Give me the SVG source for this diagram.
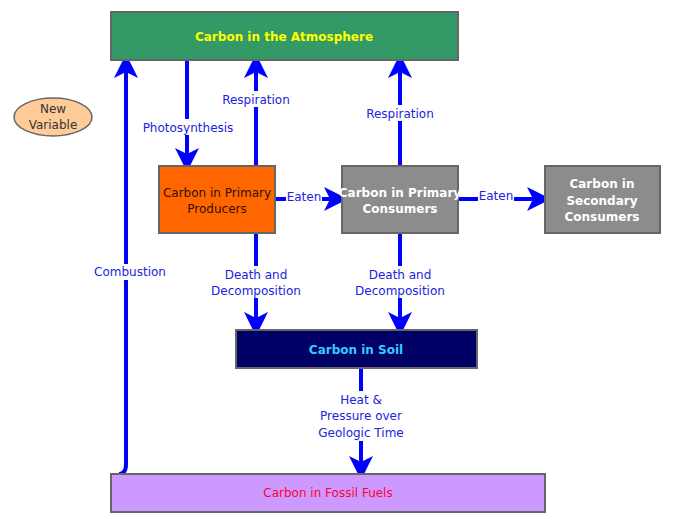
<svg xmlns="http://www.w3.org/2000/svg" width="674" height="524" viewBox="0 0 674 524">
<style>
text{font-family:"DejaVu Sans","Liberation Sans",sans-serif;font-size:12px;text-anchor:middle}
.box{stroke:#666;stroke-width:2}
.lbl{fill:#2222dd}
.c{fill:none;stroke:#0000ff;stroke-width:4}
.bg{fill:#fff}
</style>
<defs>
<marker id="a" markerWidth="6" markerHeight="6" refX="3" refY="3" orient="auto" markerUnits="strokeWidth"><path d="M0,0 L6,3 L0,6 L1.5,3 z" fill="#0000ff"/></marker>
</defs>
<rect width="674" height="524" fill="#fff"/>
<g id="connectors">
<path class="c" d="M187,60 V160" marker-end="url(#a)"/>
<path class="c" d="M256,166 V66" marker-end="url(#a)"/>
<path class="c" d="M400,166 V66" marker-end="url(#a)"/>
<path class="c" d="M275,199 H336" marker-end="url(#a)"/>
<path class="c" d="M458,199 H539" marker-end="url(#a)"/>
<path class="c" d="M256,233 V324" marker-end="url(#a)"/>
<path class="c" d="M400,233 V324" marker-end="url(#a)"/>
<path class="c" d="M361,368 V468" marker-end="url(#a)"/>
<path class="c" d="M119,474 Q126,474 126,464 V66" marker-end="url(#a)"/>
<rect class="bg" x="139" y="119" width="98" height="16"/>
<text class="lbl" x="188" y="132">Photosynthesis</text>
<rect class="bg" x="218" y="91" width="74" height="16"/>
<text class="lbl" x="256" y="104">Respiration</text>
<rect class="bg" x="362" y="105" width="76" height="16"/>
<text class="lbl" x="400" y="118">Respiration</text>
<rect class="bg" x="286" y="190" width="36" height="14"/>
<text class="lbl" x="304" y="201">Eaten</text>
<rect class="bg" x="478" y="189" width="36" height="14"/>
<text class="lbl" x="496" y="200">Eaten</text>
<rect class="bg" x="210" y="266" width="92" height="32"/>
<text class="lbl" x="256" y="279">Death and</text>
<text class="lbl" x="256" y="295">Decomposition</text>
<rect class="bg" x="354" y="266" width="92" height="32"/>
<text class="lbl" x="400" y="279">Death and</text>
<text class="lbl" x="400" y="295">Decomposition</text>
<rect class="bg" x="316" y="391" width="90" height="50"/>
<text class="lbl" x="361" y="404">Heat &amp;</text>
<text class="lbl" x="361" y="420">Pressure over</text>
<text class="lbl" x="361" y="437">Geologic Time</text>
<rect class="bg" x="94" y="264" width="72" height="16"/>
<text class="lbl" x="130" y="276">Combustion</text>
</g>
<g id="atmosphere"><rect class="box" x="111" y="12" width="347" height="48" fill="#339966"/><text x="284" y="41" fill="#ffff00" font-weight="bold">Carbon in the Atmosphere</text></g>
<g id="producers"><rect class="box" x="159" y="166" width="116" height="67" fill="#ff6600"/><text x="217" y="197" fill="#331100">Carbon in Primary</text><text x="217" y="213" fill="#331100">Producers</text></g>
<g id="consumers"><rect class="box" x="342" y="166" width="116" height="67" fill="#8c8c8c"/><text x="400" y="197" fill="#fff" font-weight="bold">Carbon in Primary</text><text x="400" y="213" fill="#fff" font-weight="bold">Consumers</text></g>
<g id="secondary"><rect class="box" x="545" y="166" width="115" height="67" fill="#8c8c8c"/><text x="602" y="188" fill="#fff" font-weight="bold">Carbon in</text><text x="602" y="205" fill="#fff" font-weight="bold">Secondary</text><text x="602" y="221" fill="#fff" font-weight="bold">Consumers</text></g>
<g id="soil"><rect class="box" x="236" y="330" width="241" height="38" fill="#000066"/><text x="356" y="354" fill="#33ccff" font-weight="bold">Carbon in Soil</text></g>
<g id="fossil"><rect class="box" x="111" y="474" width="434" height="38" fill="#cc99ff"/><text x="328" y="497" fill="#ff0033">Carbon in Fossil Fuels</text></g>
<g id="newvar"><ellipse cx="53" cy="117" rx="39" ry="19" fill="#ffcc99" stroke="#666" stroke-width="1.5"/><text x="53" y="113" fill="#333">New</text><text x="53" y="129" fill="#333">Variable</text></g>
</svg>
